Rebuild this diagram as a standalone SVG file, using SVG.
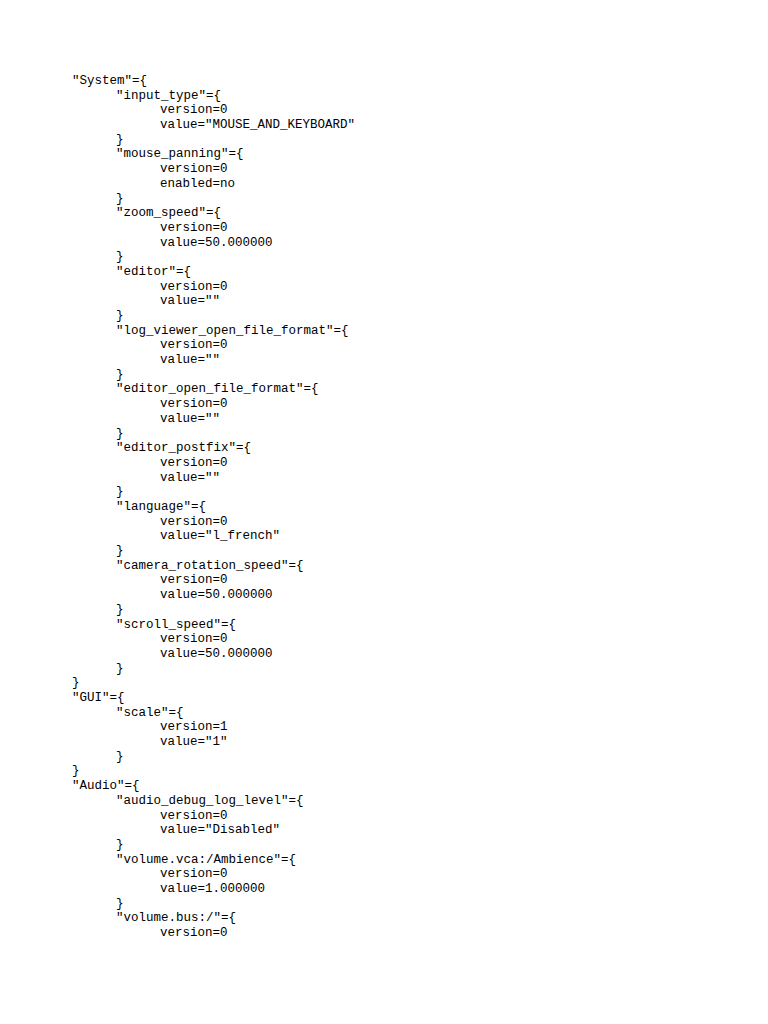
<svg xmlns="http://www.w3.org/2000/svg" width="768" height="1024" viewBox="0 0 768 1024">
<style>text{font-family:"Liberation Mono","Courier New",monospace;font-size:12.5px;fill:#000}</style>
<rect width="768" height="1024" fill="#fff"/>
<text>
<tspan x="72" y="84">"System"={</tspan>
<tspan x="116" dy="14.69">"input_type"={</tspan>
<tspan x="160" dy="14.69">version=0</tspan>
<tspan x="160" dy="14.69">value="MOUSE_AND_KEYBOARD"</tspan>
<tspan x="116" dy="14.69">}</tspan>
<tspan x="116" dy="14.69">"mouse_panning"={</tspan>
<tspan x="160" dy="14.69">version=0</tspan>
<tspan x="160" dy="14.69">enabled=no</tspan>
<tspan x="116" dy="14.69">}</tspan>
<tspan x="116" dy="14.69">"zoom_speed"={</tspan>
<tspan x="160" dy="14.69">version=0</tspan>
<tspan x="160" dy="14.69">value=50.000000</tspan>
<tspan x="116" dy="14.69">}</tspan>
<tspan x="116" dy="14.69">"editor"={</tspan>
<tspan x="160" dy="14.69">version=0</tspan>
<tspan x="160" dy="14.69">value=""</tspan>
<tspan x="116" dy="14.69">}</tspan>
<tspan x="116" dy="14.69">"log_viewer_open_file_format"={</tspan>
<tspan x="160" dy="14.69">version=0</tspan>
<tspan x="160" dy="14.69">value=""</tspan>
<tspan x="116" dy="14.69">}</tspan>
<tspan x="116" dy="14.69">"editor_open_file_format"={</tspan>
<tspan x="160" dy="14.69">version=0</tspan>
<tspan x="160" dy="14.69">value=""</tspan>
<tspan x="116" dy="14.69">}</tspan>
<tspan x="116" dy="14.69">"editor_postfix"={</tspan>
<tspan x="160" dy="14.69">version=0</tspan>
<tspan x="160" dy="14.69">value=""</tspan>
<tspan x="116" dy="14.69">}</tspan>
<tspan x="116" dy="14.69">"language"={</tspan>
<tspan x="160" dy="14.69">version=0</tspan>
<tspan x="160" dy="14.69">value="l_french"</tspan>
<tspan x="116" dy="14.69">}</tspan>
<tspan x="116" dy="14.69">"camera_rotation_speed"={</tspan>
<tspan x="160" dy="14.69">version=0</tspan>
<tspan x="160" dy="14.69">value=50.000000</tspan>
<tspan x="116" dy="14.69">}</tspan>
<tspan x="116" dy="14.69">"scroll_speed"={</tspan>
<tspan x="160" dy="14.69">version=0</tspan>
<tspan x="160" dy="14.69">value=50.000000</tspan>
<tspan x="116" dy="14.69">}</tspan>
<tspan x="72" dy="14.69">}</tspan>
<tspan x="72" dy="14.69">"GUI"={</tspan>
<tspan x="116" dy="14.69">"scale"={</tspan>
<tspan x="160" dy="14.69">version=1</tspan>
<tspan x="160" dy="14.69">value="1"</tspan>
<tspan x="116" dy="14.69">}</tspan>
<tspan x="72" dy="14.69">}</tspan>
<tspan x="72" dy="14.69">"Audio"={</tspan>
<tspan x="116" dy="14.69">"audio_debug_log_level"={</tspan>
<tspan x="160" dy="14.69">version=0</tspan>
<tspan x="160" dy="14.69">value="Disabled"</tspan>
<tspan x="116" dy="14.69">}</tspan>
<tspan x="116" dy="14.69">"volume.vca:/Ambience"={</tspan>
<tspan x="160" dy="14.69">version=0</tspan>
<tspan x="160" dy="14.69">value=1.000000</tspan>
<tspan x="116" dy="14.69">}</tspan>
<tspan x="116" dy="14.69">"volume.bus:/"={</tspan>
<tspan x="160" dy="14.69">version=0</tspan>
</text>
</svg>
